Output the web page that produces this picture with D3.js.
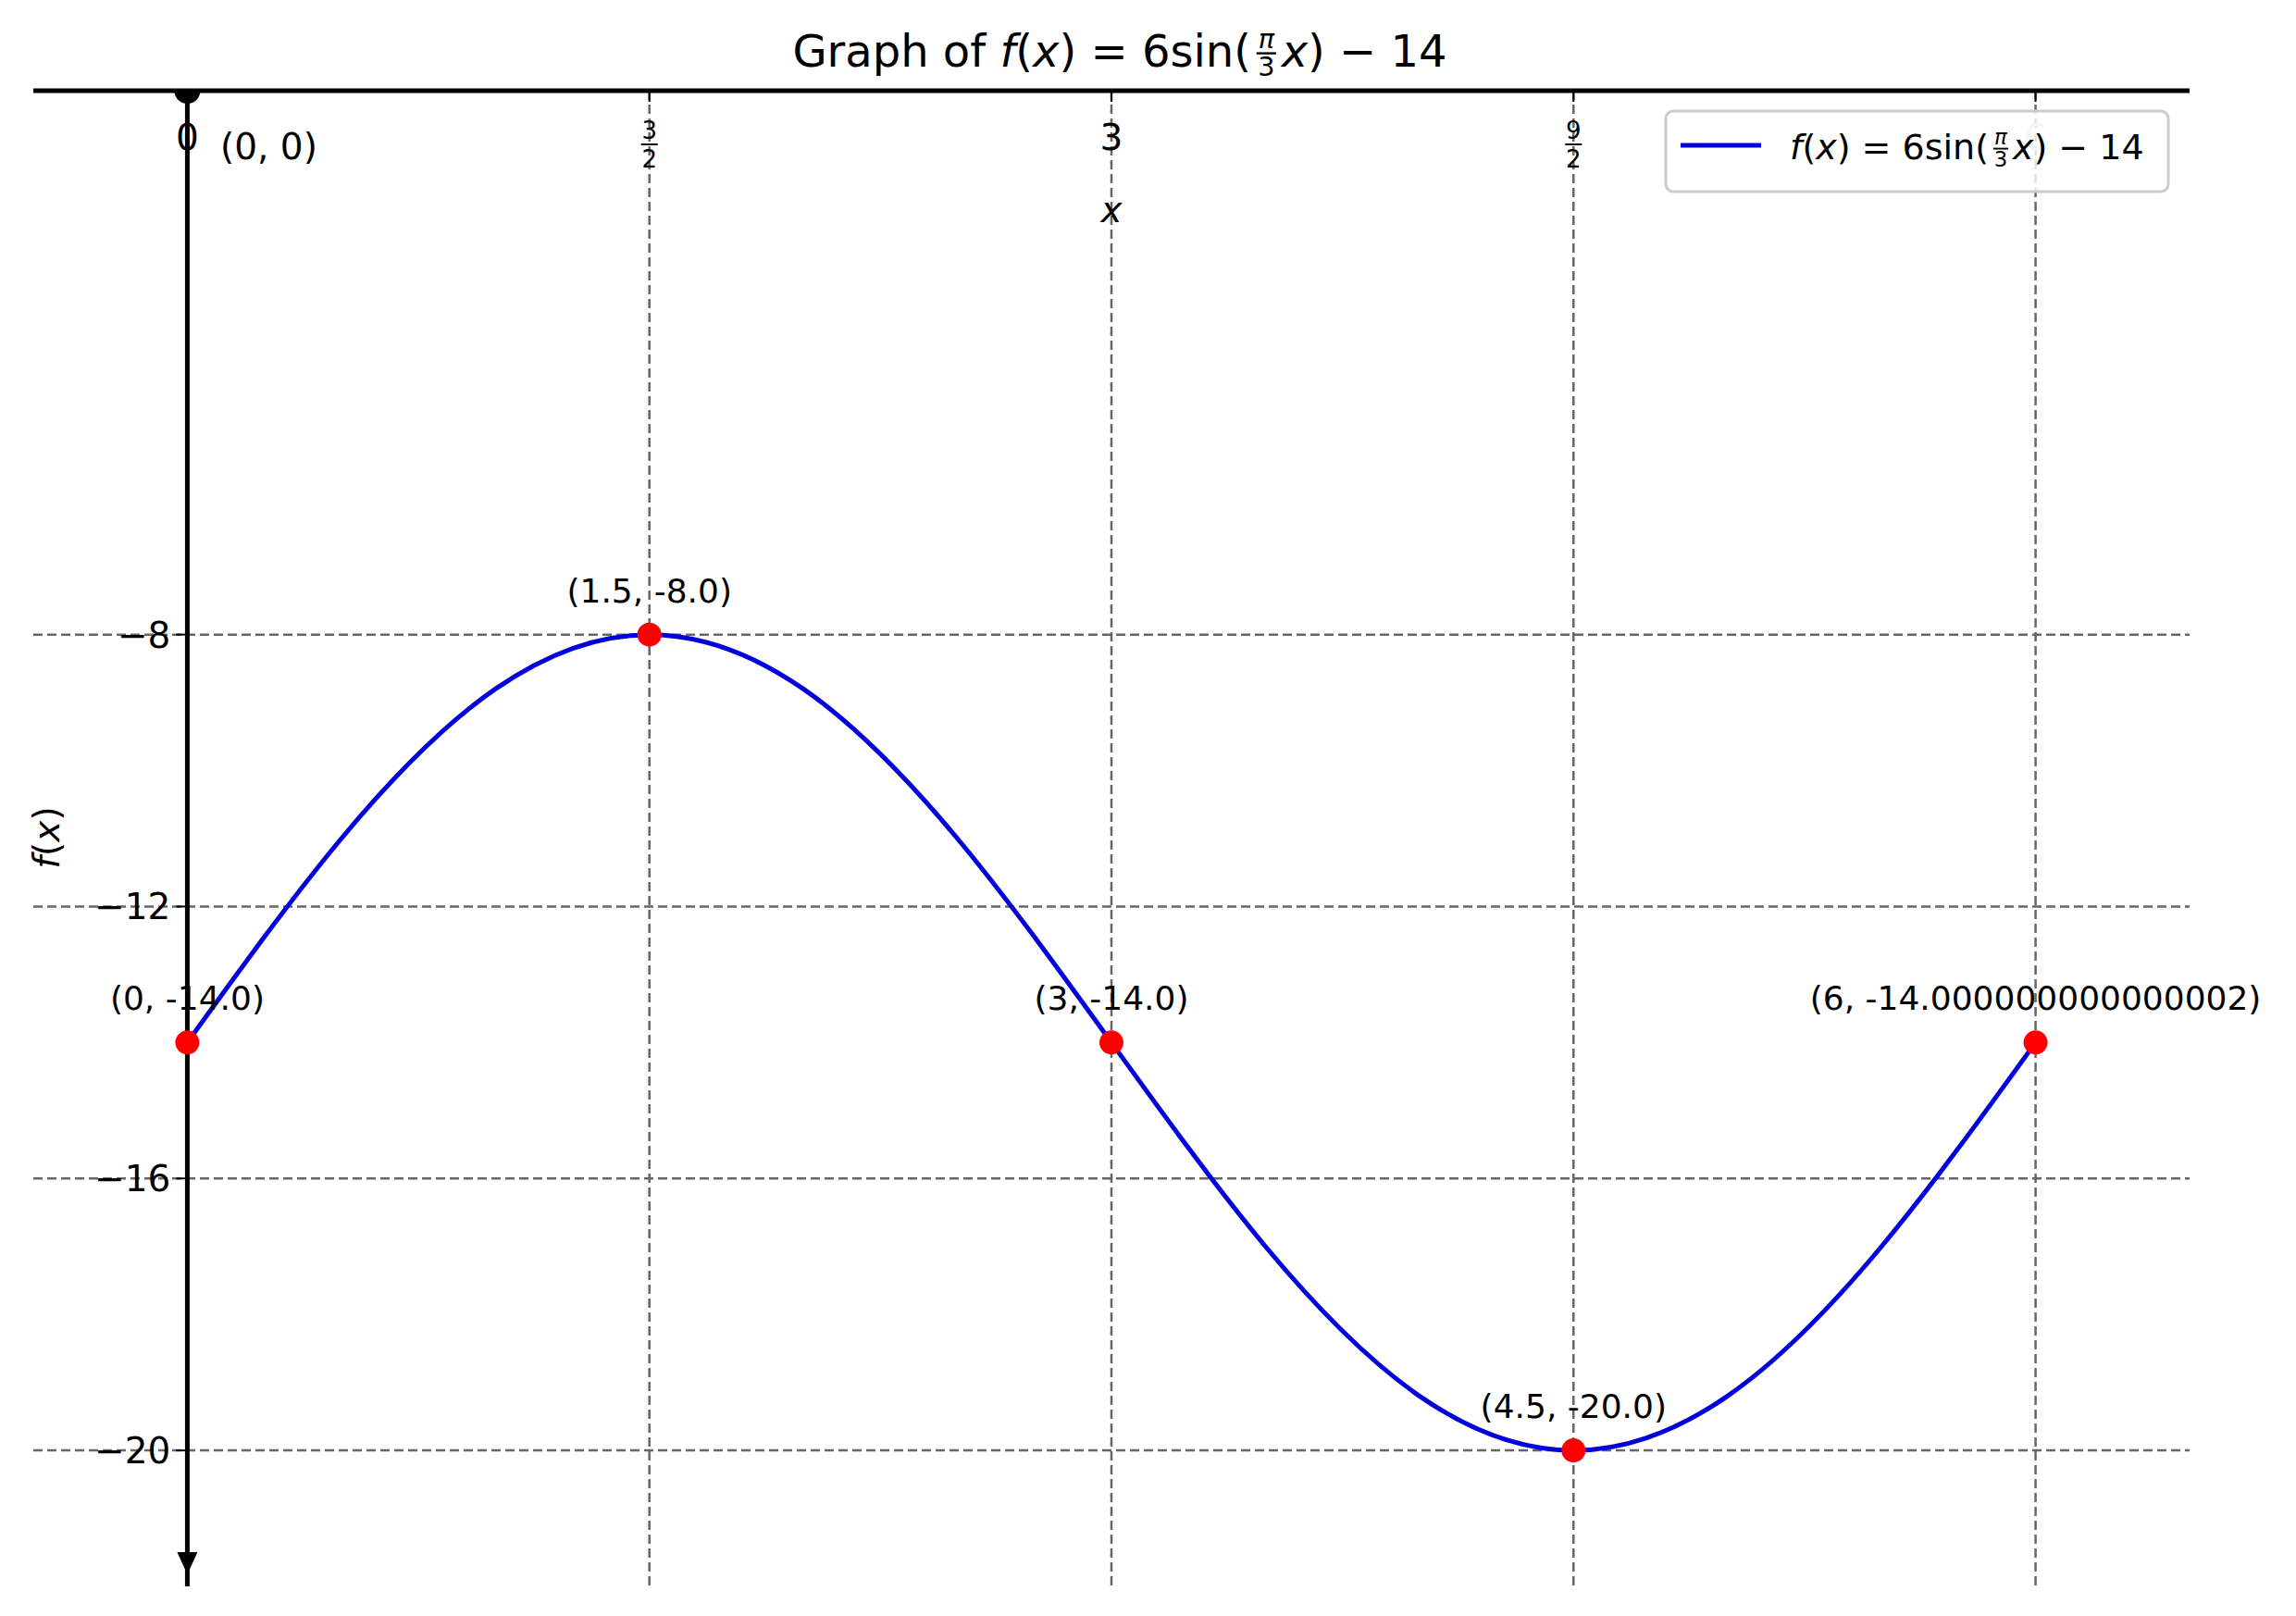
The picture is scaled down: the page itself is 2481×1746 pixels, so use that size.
<!DOCTYPE html>
<html>
<head>
<meta charset="utf-8">
<script src="https://cdn.jsdelivr.net/npm/d3@7"></script>
<style>
  body { margin: 0; background: #fff; }
  text { font-family: "DejaVu Sans", sans-serif; }
</style>
</head>
<body>
<svg id="chart" width="2481" height="1746"></svg>
<script>
// curve samples
const curveX = [0, 0.5, 1, 1.5, 2, 2.5, 3, 3.5, 4, 4.5, 5, 5.5, 6];
const curveY = [-14, -11, -8.8, -8, -8.8, -11, -14, -17, -19.2, -20, -19.2, -17, -14];
// marked points
const pointX = [0, 1.5, 3, 4.5, 6];
const pointY = [-14, -8, -14, -20, -14];
const pointLabels = ["(0, -14.0)", "(1.5, -8.0)", "(3, -14.0)", "(4.5, -20.0)", "(6, -14.000000000000002)"];
const xTicks = [0, 1.5, 3, 4.5, 6];
const xTickLabels = [["0"], ["3", "2"], ["3"], ["9", "2"], ["6"]];
const yTicks = [-8, -12, -16, -20];

const svg = d3.select("#chart");
const plotL = 36, plotR = 2366, plotT = 98, plotB = 1714;
const x = d3.scaleLinear().domain([-0.5, 6.5]).range([plotL, plotR]);
const y = d3.scaleLinear().domain([-22, 0]).range([plotB, plotT]);

// math text helper: parts are {t, it} or {frac:[n,d]}
function mathText(g, x0, y0, size, parts, anchor) {
  const grp = g.append("g");
  let cx = 0;
  parts.forEach(p => {
    if (p.frac) {
      const fs = size * 0.6;
      const pad = size * 0.1;
      const n = grp.append("text").attr("font-size", fs).attr("font-style", p.it ? "italic" : null)
        .attr("text-anchor", "middle").attr("y", -size * 0.42).text(p.frac[0]);
      const d = grp.append("text").attr("font-size", fs).attr("text-anchor", "middle")
        .attr("y", size * 0.2).text(p.frac[1]);
      const w = Math.max(n.node().getComputedTextLength(), d.node().getComputedTextLength()) + size * 0.1;
      n.attr("x", cx + pad + w / 2); d.attr("x", cx + pad + w / 2);
      grp.append("line").attr("x1", cx + pad + 1).attr("x2", cx + pad + w - 1)
        .attr("y1", -size * 0.3).attr("y2", -size * 0.3).attr("stroke", "#000").attr("stroke-width", size * 0.05);
      cx += w + 2 * pad;
    } else {
      const t = grp.append("text").attr("font-size", size).attr("x", cx)
        .attr("font-style", p.it ? "italic" : null).attr("xml:space", "preserve").text(p.t);
      cx += t.node().getComputedTextLength();
    }
  });
  const off = anchor === "middle" ? -cx / 2 : anchor === "end" ? -cx : 0;
  grp.attr("transform", `translate(${x0 + off},${y0})`);
  return cx;
}

const formula = [
  {t: "f", it: true}, {t: "("}, {t: "x", it: true}, {t: ") = 6sin("},
  {frac: ["π", "3"], it: true}, {t: "x", it: true}, {t: ") − 14"}
];

// grid
svg.append("g").selectAll("line").data(xTicks).join("line")
  .attr("x1", d => x(d)).attr("x2", d => x(d)).attr("y1", plotT).attr("y2", plotB)
  .attr("stroke", "#666").attr("stroke-width", 2.5).attr("stroke-dasharray", "10,5");
svg.append("g").selectAll("line").data(yTicks).join("line")
  .attr("x1", plotL).attr("x2", plotR).attr("y1", d => y(d)).attr("y2", d => y(d))
  .attr("stroke", "#666").attr("stroke-width", 2.5).attr("stroke-dasharray", "10,5");

// top spine (y=0) and left spine (x=0)
svg.append("line").attr("x1", plotL).attr("x2", plotR).attr("y1", y(0)).attr("y2", y(0))
  .attr("stroke", "#000").attr("stroke-width", 5);
svg.append("line").attr("x1", x(0)).attr("x2", x(0)).attr("y1", y(0)).attr("y2", plotB)
  .attr("stroke", "#000").attr("stroke-width", 5);
// arrow and top cap
svg.append("path")
  .attr("d", `M${x(0) - 11},${plotB - 37} L${x(0) + 11},${plotB - 37} L${x(0)},${plotB - 13} Z`)
  .attr("fill", "#000");
svg.append("path")
  .attr("d", d3.arc()({innerRadius: 0, outerRadius: 14, startAngle: Math.PI / 2, endAngle: Math.PI * 1.5}))
  .attr("transform", `translate(${x(0)},${y(0)})`).attr("fill", "#000");

// x ticks + labels (below top spine)
xTicks.forEach((t, i) => {
  svg.append("line").attr("x1", x(t)).attr("x2", x(t)).attr("y1", y(0)).attr("y2", y(0) + 12)
    .attr("stroke", "#000").attr("stroke-width", 2);
  const lab = xTickLabels[i];
  if (lab.length === 1) {
    svg.append("text").attr("x", x(t)).attr("y", 162).attr("text-anchor", "middle")
      .attr("font-size", 39).attr("fill", i === 4 ? "#ccc" : "#000").text(lab[0]);
  } else {
    svg.append("text").attr("x", x(t)).attr("y", 150).attr("text-anchor", "middle").attr("font-size", 26).text(lab[0]);
    svg.append("line").attr("x1", x(t) - 9).attr("x2", x(t) + 9).attr("y1", 156).attr("y2", 156)
      .attr("stroke", "#000").attr("stroke-width", 2);
    svg.append("text").attr("x", x(t)).attr("y", 181).attr("text-anchor", "middle").attr("font-size", 26).text(lab[1]);
  }
});
// y ticks
yTicks.forEach(t => {
  svg.append("line").attr("x1", x(0) - 12).attr("x2", x(0)).attr("y1", y(t)).attr("y2", y(t))
    .attr("stroke", "#000").attr("stroke-width", 2);
  svg.append("text").attr("x", x(0) - 18).attr("y", y(t) + 14).attr("text-anchor", "end")
    .attr("font-size", 39).text("−" + Math.abs(t));
});

// axis labels
svg.append("text").attr("x", 1201).attr("y", 240).attr("text-anchor", "middle")
  .attr("font-size", 39).attr("font-style", "italic").text("x");
mathText(svg.append("g").attr("transform", "translate(64,905) rotate(-90)"), 0, 0, 39,
  [{t: "f", it: true}, {t: "("}, {t: "x", it: true}, {t: ")"}], "middle");

// title
mathText(svg, 1210, 72, 48, [{t: "Graph of "}].concat(formula), "middle");

// curve
const curveData = curveX.map((v, i) => [v, curveY[i]]);
svg.append("path").datum(curveData)
  .attr("d", d3.line().x(d => x(d[0])).y(d => y(d[1])).curve(d3.curveNatural))
  .attr("fill", "none").attr("stroke", "#0000dd").attr("stroke-width", 5);

// points and labels
svg.append("g").selectAll("circle").data(pointX).join("circle")
  .attr("cx", d => x(d)).attr("cy", (d, i) => y(pointY[i])).attr("r", 13).attr("fill", "#ff0000");
svg.append("g").selectAll("text").data(pointLabels).join("text")
  .attr("x", (d, i) => x(pointX[i])).attr("y", (d, i) => y(pointY[i]) - 35)
  .attr("text-anchor", "middle").attr("font-size", 36).text(d => d);
svg.append("text").attr("x", 238).attr("y", 172).attr("font-size", 39).text("(0, 0)");

// legend
svg.append("rect").attr("x", 1800).attr("y", 120).attr("width", 543).attr("height", 87).attr("rx", 8)
  .attr("fill", "rgba(255,255,255,0.8)").attr("stroke", "#ccc").attr("stroke-width", 3);
svg.append("line").attr("x1", 1816).attr("x2", 1903).attr("y1", 157).attr("y2", 157)
  .attr("stroke", "#0000dd").attr("stroke-width", 5);
mathText(svg, 1934, 172, 38, formula, "start");
</script>
</body>
</html>
